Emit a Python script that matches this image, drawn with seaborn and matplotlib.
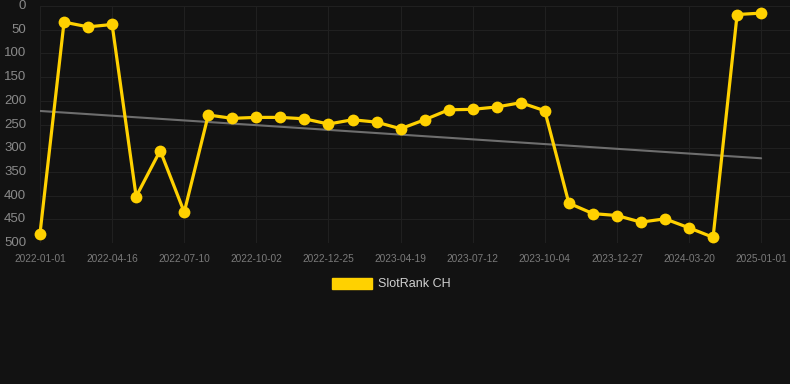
import numpy as np
import pandas as pd
import seaborn as sns
import matplotlib.pyplot as plt
import matplotlib.patches as mpatches

# rank per sample (lower is better), equally spaced samples
ranks = [480, 34, 44, 39, 402, 305, 435, 230, 237, 235,
         235, 238, 249, 240, 245, 259, 240, 219, 218, 213,
         204, 221, 416, 438, 442, 456, 449, 468, 488, 18, 15]
tick_labels = ["2022-01-01", "2022-04-16", "2022-07-10", "2022-10-02",
               "2022-12-25", "2023-04-19", "2023-07-12", "2023-10-04",
               "2023-12-27", "2024-03-20", "2025-01-01"]
series_name = "SlotRank CH"

bg = "#121212"
yellow = "#ffd100"

sns.set_theme(style="dark")
plt.rcParams["font.family"] = ["Liberation Sans", "DejaVu Sans"]

data = pd.DataFrame({"idx": np.arange(len(ranks)), "rank": ranks})

# linear trend over the series
b, a = np.polyfit(data["idx"], data["rank"], 1)
data["trend"] = a + b * data["idx"]

fig = plt.figure(figsize=(7.9, 3.84), dpi=100, facecolor=bg)
ax = fig.add_axes([40 / 790, 1 - 243 / 384, 750 / 790, 237 / 384])
ax.set_facecolor(bg)

sns.lineplot(data=data, x="idx", y="trend", ax=ax, color="#6e6e6e",
             linewidth=1.5, zorder=2)
sns.lineplot(data=data, x="idx", y="rank", ax=ax, color=yellow,
             linewidth=2.3, marker="o", markersize=8.5, markeredgewidth=0,
             zorder=3, clip_on=False)

ax.set_ylim(500, 0)
ax.set_xlim(0, 31.2)
ax.set_yticks(range(0, 501, 50))
ax.set_xticks(range(0, len(ranks), 3))
ax.set_xticklabels(tick_labels)
ax.set_xlabel("")
ax.set_ylabel("")

ax.grid(True, color="#202020", linewidth=0.8)
for s in ax.spines.values():
    s.set_visible(False)
ax.tick_params(axis="y", colors="#8a8a8a", labelsize=9.5, length=0, pad=10)
ax.tick_params(axis="x", colors="#7a7a7a", labelsize=7.3, length=0, pad=8)
for lbl in ax.get_yticklabels():
    lbl.set_verticalalignment("center")

handle = mpatches.Patch(color=yellow, label=series_name)
fig.legend(handles=[handle], loc="center", bbox_to_anchor=(0.495, 1 - 284 / 384),
           frameon=False, fontsize=9, labelcolor="#d0d0d0",
           handlelength=3.2, handleheight=1.0, handletextpad=0.5)

fig.savefig("out.png", dpi=100, facecolor=bg)
